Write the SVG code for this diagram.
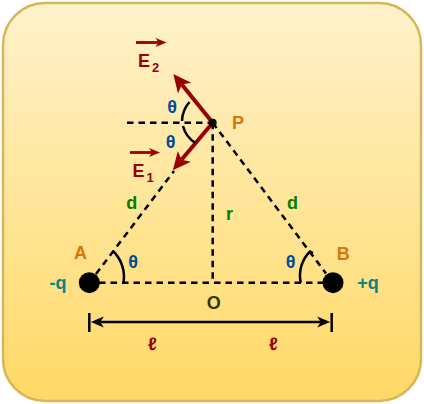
<svg xmlns="http://www.w3.org/2000/svg" width="424" height="404" viewBox="0 0 424 404">
<defs>
<linearGradient id="bg" x1="0" y1="0" x2="0" y2="1">
<stop offset="0" stop-color="#fff2cc"/>
<stop offset="1" stop-color="#ffd966"/>
</linearGradient>
<marker id="bigHead" markerUnits="userSpaceOnUse" markerWidth="19" markerHeight="18" refX="4.5" refY="8.5" orient="auto" overflow="visible">
<path d="M0,0 L18,8.5 L0,17 L4.5,8.5 z" fill="#990000"/>
</marker>
<marker id="vecHead" markerUnits="userSpaceOnUse" markerWidth="12" markerHeight="10" refX="3" refY="4.5" orient="auto" overflow="visible">
<path d="M0,0 L11,4.5 L0,9 L3,4.5 z" fill="#990000"/>
</marker>
<marker id="dimHead" markerUnits="userSpaceOnUse" markerWidth="14" markerHeight="12" refX="3.5" refY="5.5" orient="auto-start-reverse" overflow="visible">
<path d="M0,0 L13,5.5 L0,11 L3.5,5.5 z" fill="#000"/>
</marker>
</defs>
<style>
text{font-family:"Liberation Sans",Arial,sans-serif;font-weight:bold;font-size:18px;text-anchor:middle}
.dash{stroke:#000;stroke-width:2.5;stroke-dasharray:6.5 5;fill:none}
.arc{stroke:#000;stroke-width:2.5;fill:none}
.lbl{fill:#D4770C}
.chg{fill:#0E8088}
.ang{fill:#004C99}
.len{fill:#007F00}
.red{fill:#990000}
.sub{font-size:13px}
</style>
<rect id="background" x="3" y="3" width="418" height="398" rx="42" ry="42" fill="url(#bg)" stroke="#d6b656" stroke-width="2.5"/>
<g id="connectors">
<line class="dash" x1="99" y1="282.7" x2="323" y2="282.7"/>
<line class="dash" x1="212.7" y1="122.7" x2="212.7" y2="282.7"/>
<line class="dash" x1="127" y1="122.7" x2="212.7" y2="122.7"/>
<line class="dash" x1="96" y1="274" x2="174" y2="171"/>
<line class="dash" x1="212.7" y1="122.7" x2="326" y2="273.5"/>
<line id="E2arrow" x1="212.7" y1="122.7" x2="181.8" y2="84.6" stroke="#990000" stroke-width="4" marker-end="url(#bigHead)"/>
<line id="E1arrow" x1="212.7" y1="122.7" x2="181.5" y2="159.8" stroke="#990000" stroke-width="4" marker-end="url(#bigHead)"/>
<path class="arc" d="M189.5,102 A30,30 0 0 0 182,121"/>
<path class="arc" d="M183,126 A28,28 0 0 0 195.5,143"/>
<path class="arc" d="M123.5,282.7 A36,36 0 0 0 113,251"/>
<path class="arc" d="M300.7,282.7 A34,34 0 0 1 310,251.5 l3,1.5"/>
<line id="dimline" x1="100.3" y1="322" x2="320.7" y2="322" stroke="#000" stroke-width="2.5" marker-start="url(#dimHead)" marker-end="url(#dimHead)"/>
<line x1="89.3" y1="313" x2="89.3" y2="332" stroke="#000" stroke-width="2.5"/>
<line x1="331.7" y1="313" x2="331.7" y2="332" stroke="#000" stroke-width="2.5"/>
</g>
<g id="nodeA">
<circle cx="89.3" cy="282.7" r="10.5" fill="#000"/>
<text class="lbl" x="80.5" y="259">A</text>
<text class="chg" x="58" y="288.5">-q</text>
<text class="ang" x="133" y="268.3">θ</text>
</g>
<g id="nodeB">
<circle cx="333" cy="282.7" r="10.5" fill="#000"/>
<text class="lbl" x="343.3" y="259.5">B</text>
<text class="chg" x="368" y="288.5">+q</text>
<text class="ang" x="290.5" y="268.3">θ</text>
</g>
<g id="nodeP">
<circle cx="212.7" cy="122.7" r="4" fill="#000"/>
<text class="lbl" x="238" y="129">P</text>
<text class="ang" x="172" y="113.3">θ</text>
<text class="ang" x="170.5" y="147.5">θ</text>
</g>
<g id="nodeO">
<text x="213.7" y="309" fill="#333300">O</text>
</g>
<g id="labelE2">
<line x1="136" y1="42.5" x2="158.5" y2="42.5" stroke="#990000" stroke-width="2.8" marker-end="url(#vecHead)"/>
<text class="red" x="144" y="66.5">E</text>
<text class="red sub" x="155.5" y="71.5">2</text>
</g>
<g id="labelE1">
<line x1="130" y1="152.5" x2="152" y2="152.5" stroke="#990000" stroke-width="2.8" marker-end="url(#vecHead)"/>
<text class="red" x="138.5" y="176.7">E</text>
<text class="red sub" x="150" y="181.7">1</text>
</g>
<g id="labelsLen">
<text class="len" x="131.7" y="209">d</text>
<text class="len" x="292.5" y="209">d</text>
<text class="len" x="229.5" y="220">r</text>
<text class="red" x="152.5" y="350">ℓ</text>
<text class="red" x="273.5" y="350">ℓ</text>
</g>
</svg>
